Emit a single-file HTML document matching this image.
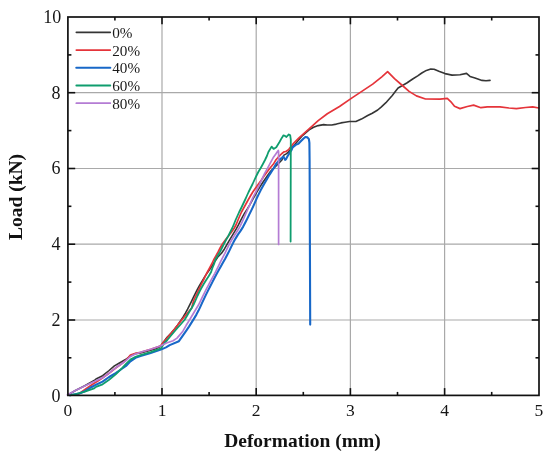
<!DOCTYPE html>
<html><head><meta charset="utf-8"><title>Load vs Deformation</title>
<style>
html,body{margin:0;padding:0;background:#fff;}
body{width:550px;height:457px;overflow:hidden;}
svg{display:block;}
.tk{font-family:"Liberation Serif","Times New Roman",serif;font-size:17.5px;fill:#151515;}
.ty{font-size:18px;}
.lg{font-family:"Liberation Serif","Times New Roman",serif;font-size:15.2px;fill:#1a1a1a;}
.ttl{font-family:"Liberation Serif","Times New Roman",serif;font-size:19.5px;font-weight:bold;fill:#111;}
</style></head>
<body>
<svg width="550" height="457" viewBox="0 0 550 457"><g stroke="#a9a9a9" stroke-width="1.2"><line x1="162.0" y1="17.0" x2="162.0" y2="395.4" /><line x1="256.2" y1="17.0" x2="256.2" y2="395.4" /><line x1="350.4" y1="17.0" x2="350.4" y2="395.4" /><line x1="444.6" y1="17.0" x2="444.6" y2="395.4" /><line x1="67.9" y1="320.0" x2="539.0" y2="320.0" /><line x1="67.9" y1="244.2" x2="539.0" y2="244.2" /><line x1="67.9" y1="168.5" x2="539.0" y2="168.5" /><line x1="67.9" y1="92.7" x2="539.0" y2="92.7" /></g><path d="M67.8,395.0 L75.4,390.5 L84.8,385.8 L94.2,380.5 L96.0,379.0 L102.6,375.7 L109.1,370.5 L114.4,365.9 L119.0,363.3 L126.0,359.3 L130.4,356.0 L135.5,353.6 L140.5,353.0 L150.7,350.3 L155.8,348.8 L160.5,346.3 L167.1,337.2 L171.0,333.2 L174.4,329.2 L177.5,325.2 L180.3,321.2 L183.0,317.2 L185.4,313.2 L187.6,309.2 L189.6,305.2 L191.6,301.2 L193.5,297.2 L195.5,293.2 L197.5,289.2 L199.7,285.2 L202.1,281.2 L204.5,277.2 L207.0,273.2 L209.8,269.2 L212.6,265.2 L215.0,261.2 L217.6,257.2 L221.5,253.2 L224.3,249.2 L226.6,245.2 L228.9,241.2 L231.3,237.2 L233.7,233.2 L236.1,229.2 L238.3,225.2 L240.3,221.2 L242.4,217.2 L244.6,213.2 L247.2,209.2 L249.6,205.2 L251.8,201.2 L254.0,197.2 L256.2,193.2 L258.6,189.2 L261.0,185.2 L263.6,181.2 L266.4,177.2 L269.2,173.2 L270.6,171.3 L276.3,165.6 L281.9,160.0 L283.9,155.1 L286.2,153.9 L287.8,152.7 L294.0,145.5 L301.6,136.4 L309.1,129.8 L313.6,127.3 L318.2,125.6 L323.6,124.6 L327.3,125.0 L331.8,125.0 L336.4,124.1 L340.9,122.9 L345.0,122.2 L349.5,121.5 L355.9,121.5 L361.4,119.1 L367.7,115.5 L372.3,113.2 L377.7,110.0 L381.4,106.8 L385.9,102.7 L388.3,100.0 L392.3,95.5 L395.5,91.3 L398.1,88.0 L406.8,83.0 L412.7,79.0 L417.7,75.8 L421.8,73.0 L426.4,70.4 L430.8,69.0 L434.1,69.3 L439.5,71.5 L445.0,73.6 L452.0,75.1 L460.0,74.8 L466.5,73.4 L470.0,76.4 L475.0,78.0 L482.0,80.4 L486.0,80.8 L490.0,80.4" fill="none" stroke="#353535" stroke-width="1.6" stroke-linejoin="round" stroke-linecap="round"/><path d="M78.0,394.5 L83.9,390.3 L88.6,387.0 L94.2,383.2 L97.1,381.6 L102.4,378.0 L109.0,373.3 L115.7,368.0 L122.3,363.3 L126.0,360.2 L130.4,355.0 L135.5,353.3 L140.5,352.3 L150.7,349.3 L160.9,345.7 L163.1,342.5 L165.5,340.0 L168.8,336.0 L172.1,332.0 L175.4,328.0 L178.5,324.0 L181.7,320.0 L185.0,316.0 L188.3,312.0 L191.7,308.0 L192.7,304.0 L193.9,300.0 L195.8,296.0 L197.7,292.0 L199.6,288.0 L201.5,284.0 L203.5,280.0 L205.4,276.0 L207.4,272.0 L209.6,268.0 L211.7,264.0 L213.6,260.0 L215.9,256.0 L218.1,252.0 L220.1,248.0 L222.4,244.0 L225.3,240.0 L228.4,236.0 L231.6,232.0 L234.3,228.0 L236.4,224.0 L238.0,220.0 L239.7,216.0 L241.5,212.0 L243.7,208.0 L245.9,204.0 L248.1,200.0 L250.4,196.0 L252.8,192.0 L255.6,188.0 L258.5,184.0 L261.4,180.0 L264.1,176.0 L267.0,172.0 L270.1,168.0 L273.4,164.0 L273.7,163.6 L276.0,159.8 L279.9,155.4 L281.9,153.5 L283.9,151.9 L285.8,151.5 L287.8,150.3 L289.0,149.1 L293.8,143.0 L298.7,138.2 L309.1,128.8 L318.2,120.6 L327.3,113.8 L333.6,110.0 L339.5,106.5 L350.9,98.6 L361.8,91.4 L372.7,84.1 L381.8,76.8 L387.6,71.7 L394.5,78.6 L401.8,85.0 L409.1,91.4 L416.4,95.9 L425.5,99.0 L440.0,99.2 L447.3,98.4 L450.9,101.8 L454.5,106.3 L460.0,108.6 L467.3,106.5 L473.6,105.1 L480.9,107.7 L487.3,106.9 L500.0,106.9 L509.0,108.0 L516.4,108.6 L525.5,107.5 L532.7,106.9 L538.8,108.0" fill="none" stroke="#e5343a" stroke-width="1.7" stroke-linejoin="round" stroke-linecap="round"/><path d="M70.0,395.3 L80.0,393.3 L84.8,391.2 L90.2,387.8 L94.2,385.7 L96.0,384.7 L102.6,381.6 L109.1,377.0 L115.7,373.1 L122.3,368.5 L126.0,365.9 L130.4,361.3 L135.5,357.8 L140.5,356.1 L150.7,352.9 L160.9,349.6 L166.0,347.4 L169.7,345.1 L178.9,341.2 L183.5,334.6 L186.3,330.6 L189.0,326.6 L191.5,322.6 L194.0,318.6 L196.4,314.6 L198.5,310.6 L200.4,306.6 L202.2,302.6 L204.1,298.6 L206.0,294.6 L208.0,290.6 L210.1,286.6 L212.1,282.6 L214.2,278.6 L216.3,274.6 L218.5,270.6 L220.8,266.6 L223.0,262.6 L225.3,258.6 L227.4,254.6 L229.4,250.6 L231.3,246.6 L233.3,242.6 L235.5,238.6 L237.9,234.6 L240.7,230.6 L243.2,226.6 L245.3,222.6 L247.3,218.6 L249.2,214.6 L251.2,210.6 L253.1,206.6 L254.9,202.6 L256.6,198.6 L258.5,194.6 L260.5,190.6 L262.7,186.6 L265.0,182.6 L267.3,178.6 L269.6,174.6 L272.1,170.6 L273.5,168.6 L276.3,163.6 L279.9,159.4 L281.9,157.8 L283.3,156.6 L285.1,159.8 L285.8,159.4 L287.8,155.8 L291.7,149.6 L292.6,147.4 L295.7,144.9 L298.2,143.9 L300.8,141.3 L303.3,138.7 L305.3,137.0 L307.4,137.4 L308.9,139.2 L309.4,142.8 L309.6,160.0 L310.2,324.6" fill="none" stroke="#1868c8" stroke-width="2.1" stroke-linejoin="round" stroke-linecap="round"/><path d="M70.0,395.3 L74.5,394.5 L84.8,391.7 L94.2,388.4 L96.0,386.9 L102.6,384.3 L109.1,379.7 L115.7,374.4 L122.3,367.8 L126.0,363.9 L130.4,359.6 L135.5,356.8 L140.5,355.2 L150.7,352.1 L160.9,348.4 L164.4,343.0 L167.3,340.0 L170.6,336.0 L174.0,332.0 L177.4,328.0 L181.0,324.0 L184.5,320.0 L186.9,316.0 L189.2,312.0 L191.7,308.0 L193.9,304.0 L195.7,300.0 L197.4,296.0 L199.3,292.0 L201.4,288.0 L203.7,284.0 L206.2,280.0 L208.8,276.0 L211.1,272.0 L212.4,268.0 L214.1,264.0 L215.2,260.0 L217.4,256.0 L219.9,252.0 L221.9,248.0 L223.9,244.0 L226.0,240.0 L228.3,236.0 L230.3,232.0 L232.3,228.0 L234.0,224.0 L235.6,220.0 L237.4,216.0 L239.2,212.0 L241.2,208.0 L243.1,204.0 L245.0,200.0 L246.8,196.0 L248.6,192.0 L250.6,188.0 L252.6,184.0 L254.4,180.0 L256.3,176.0 L258.3,172.0 L260.7,168.0 L262.9,164.0 L265.0,160.0 L266.9,156.0 L268.4,152.0 L271.6,146.6 L273.6,148.9 L276.3,147.2 L279.5,142.0 L281.8,137.9 L283.5,135.3 L285.3,136.1 L286.4,137.0 L288.8,134.4 L290.2,135.3 L290.8,139.6 L290.6,241.5" fill="none" stroke="#0f9d6e" stroke-width="1.8" stroke-linejoin="round" stroke-linecap="round"/><path d="M67.3,394.9 L75.4,390.6 L84.8,386.0 L94.2,381.6 L96.0,380.7 L102.6,377.7 L109.1,373.1 L115.7,367.8 L122.3,363.3 L126.0,360.6 L130.4,356.5 L135.5,354.0 L140.5,352.3 L150.7,349.3 L160.9,345.7 L166.5,343.0 L173.1,340.7 L177.0,338.1 L179.6,335.1 L182.9,331.2 L186.2,325.3 L188.7,321.3 L191.1,317.3 L193.5,313.3 L195.9,309.3 L198.3,305.3 L200.3,301.3 L202.2,297.3 L204.2,293.3 L206.2,289.3 L208.3,285.3 L210.4,281.3 L212.6,277.3 L214.8,273.3 L216.8,269.3 L218.8,265.3 L220.7,261.3 L222.8,257.3 L224.9,253.3 L226.8,249.3 L228.7,245.3 L230.9,241.3 L233.3,237.3 L235.9,233.3 L238.4,229.3 L240.5,225.3 L242.4,221.3 L244.2,217.3 L245.9,213.3 L247.7,209.3 L249.5,205.3 L251.2,201.3 L253.0,197.3 L255.1,193.3 L257.2,189.3 L259.2,185.3 L261.0,181.3 L262.8,177.3 L264.7,173.3 L266.9,169.3 L269.1,165.3 L270.0,163.6 L273.1,157.8 L276.0,153.7 L277.5,151.5 L278.3,150.4 L278.6,152.0 L278.6,244.4" fill="none" stroke="#b47cd4" stroke-width="1.7" stroke-linejoin="round" stroke-linecap="round"/><g stroke="#111" stroke-width="1.6"><line x1="114.9" y1="395.4" x2="114.9" y2="391.9" /><line x1="114.9" y1="17.0" x2="114.9" y2="20.5" /><line x1="162.0" y1="395.4" x2="162.0" y2="388.1" /><line x1="162.0" y1="17.0" x2="162.0" y2="24.3" /><line x1="209.1" y1="395.4" x2="209.1" y2="391.9" /><line x1="209.1" y1="17.0" x2="209.1" y2="20.5" /><line x1="256.2" y1="395.4" x2="256.2" y2="388.1" /><line x1="256.2" y1="17.0" x2="256.2" y2="24.3" /><line x1="303.3" y1="395.4" x2="303.3" y2="391.9" /><line x1="303.3" y1="17.0" x2="303.3" y2="20.5" /><line x1="350.4" y1="395.4" x2="350.4" y2="388.1" /><line x1="350.4" y1="17.0" x2="350.4" y2="24.3" /><line x1="397.5" y1="395.4" x2="397.5" y2="391.9" /><line x1="397.5" y1="17.0" x2="397.5" y2="20.5" /><line x1="444.6" y1="395.4" x2="444.6" y2="388.1" /><line x1="444.6" y1="17.0" x2="444.6" y2="24.3" /><line x1="491.7" y1="395.4" x2="491.7" y2="391.9" /><line x1="491.7" y1="17.0" x2="491.7" y2="20.5" /><line x1="67.9" y1="357.8" x2="71.4" y2="357.8" /><line x1="539.0" y1="357.8" x2="535.5" y2="357.8" /><line x1="67.9" y1="320.0" x2="75.2" y2="320.0" /><line x1="539.0" y1="320.0" x2="531.7" y2="320.0" /><line x1="67.9" y1="282.1" x2="71.4" y2="282.1" /><line x1="539.0" y1="282.1" x2="535.5" y2="282.1" /><line x1="67.9" y1="244.2" x2="75.2" y2="244.2" /><line x1="539.0" y1="244.2" x2="531.7" y2="244.2" /><line x1="67.9" y1="206.3" x2="71.4" y2="206.3" /><line x1="539.0" y1="206.3" x2="535.5" y2="206.3" /><line x1="67.9" y1="168.5" x2="75.2" y2="168.5" /><line x1="539.0" y1="168.5" x2="531.7" y2="168.5" /><line x1="67.9" y1="130.6" x2="71.4" y2="130.6" /><line x1="539.0" y1="130.6" x2="535.5" y2="130.6" /><line x1="67.9" y1="92.7" x2="75.2" y2="92.7" /><line x1="539.0" y1="92.7" x2="531.7" y2="92.7" /><line x1="67.9" y1="54.9" x2="71.4" y2="54.9" /><line x1="539.0" y1="54.9" x2="535.5" y2="54.9" /></g><rect x="67.9" y="17.0" width="471.1" height="378.4" fill="none" stroke="#111" stroke-width="1.7"/><line x1="76.3" y1="32.4" x2="110.3" y2="32.4" stroke="#353535" stroke-width="1.6" stroke-linecap="round"/><text x="112.2" y="37.8" class="lg">0%</text><line x1="76.3" y1="50.1" x2="110.3" y2="50.1" stroke="#e5343a" stroke-width="1.7" stroke-linecap="round"/><text x="112.2" y="55.5" class="lg">20%</text><line x1="76.3" y1="67.8" x2="110.3" y2="67.8" stroke="#1868c8" stroke-width="2.1" stroke-linecap="round"/><text x="112.2" y="73.2" class="lg">40%</text><line x1="76.3" y1="85.5" x2="110.3" y2="85.5" stroke="#0f9d6e" stroke-width="1.8" stroke-linecap="round"/><text x="112.2" y="90.9" class="lg">60%</text><line x1="76.3" y1="103.2" x2="110.3" y2="103.2" stroke="#b47cd4" stroke-width="1.7" stroke-linecap="round"/><text x="112.2" y="108.6" class="lg">80%</text><text x="60.6" y="401.6" class="tk ty" text-anchor="end">0</text><text x="60.6" y="325.9" class="tk ty" text-anchor="end">2</text><text x="60.6" y="250.1" class="tk ty" text-anchor="end">4</text><text x="60.6" y="174.4" class="tk ty" text-anchor="end">6</text><text x="60.6" y="98.6" class="tk ty" text-anchor="end">8</text><text x="61.2" y="22.9" class="tk ty" text-anchor="end">10</text><text x="67.8" y="416" class="tk" text-anchor="middle">0</text><text x="162.0" y="416" class="tk" text-anchor="middle">1</text><text x="256.2" y="416" class="tk" text-anchor="middle">2</text><text x="350.4" y="416" class="tk" text-anchor="middle">3</text><text x="444.6" y="416" class="tk" text-anchor="middle">4</text><text x="538.8" y="416" class="tk" text-anchor="middle">5</text><text x="302.4" y="446.8" class="ttl" text-anchor="middle">Deformation (mm)</text><text transform="translate(21.9,197) rotate(-90)" class="ttl" text-anchor="middle">Load (kN)</text></svg>
</body></html>
